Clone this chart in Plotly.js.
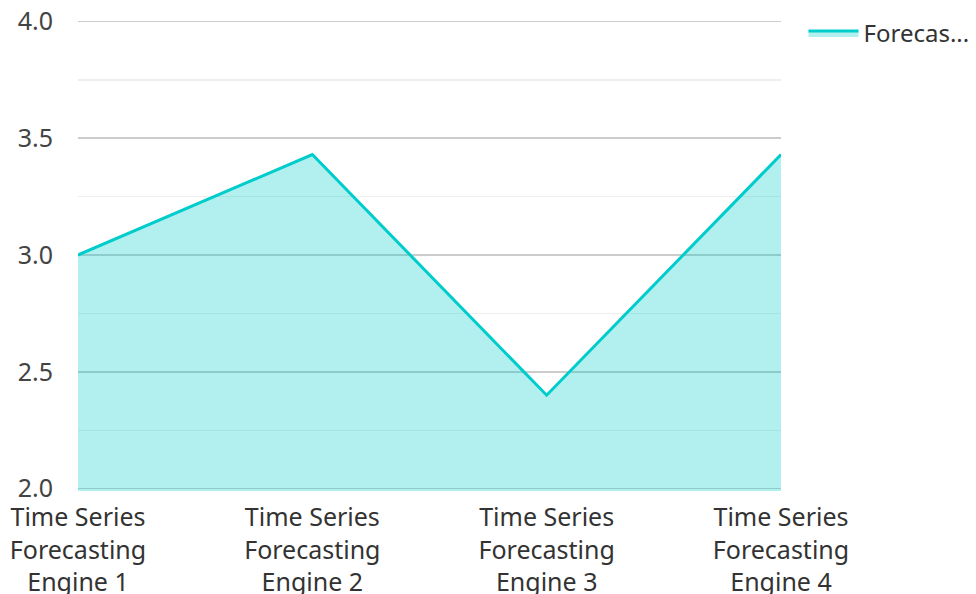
<!DOCTYPE html>
<html>
<head>
<meta charset="utf-8">
<script src="https://cdn.plot.ly/plotly-3.0.1.min.js"></script>
<style>html,body{margin:0;padding:0;background:#fff;}#chart{width:976px;height:594px;}</style>
</head>
<body>
<div id="chart"></div>
<script>
const categories = ["Time Series<br>Forecasting<br>Engine 1", "Time Series<br>Forecasting<br>Engine 2", "Time Series<br>Forecasting<br>Engine 3", "Time Series<br>Forecasting<br>Engine 4"];
const seriesName = "Forecas...";
const values = [3.0, 3.43, 2.4, 3.43];
const yTicks = [2.0, 2.5, 3.0, 3.5, 4.0];
const yTickLabels = ["2.0", "2.5", "3.0", "3.5", "4.0"];

const trace = {
  type: "scatter",
  mode: "lines",
  x: categories,
  y: values,
  name: seriesName,
  fill: "tozeroy",
  fillcolor: "rgba(0,204,204,0.3)",
  line: {color: "rgb(0,204,204)", width: 3},
  showlegend: true
};

const layout = {
  width: 976,
  height: 594,
  margin: {l: 78, r: 195, t: 19, b: 103, autoexpand: false},
  paper_bgcolor: "#fff",
  plot_bgcolor: "#fff",
  font: {family: "Noto Sans, sans-serif", size: 25, color: "#444"},
  showlegend: true,
  legend: {
    x: 1.032, xanchor: "left", y: 1.017, yanchor: "top",
    itemwidth: 50,
    font: {family: "Noto Sans, sans-serif", size: 24, color: "#333"}
  },
  xaxis: {
    type: "category",
    range: [0, 3],
    showgrid: false,
    zeroline: false,
    showline: false,
    ticks: "outside",
    ticklen: 4,
    tickcolor: "rgba(0,0,0,0)",
    tickfont: {size: 25, color: "#333"},
    automargin: false
  },
  yaxis: {
    range: [1.99, 4.01],
    tickvals: yTicks,
    ticktext: yTickLabels,
    showgrid: true,
    gridcolor: "#cccccc",
    gridwidth: 1.5,
    zeroline: false,
    showline: false,
    ticks: "outside",
    ticklen: 19,
    tickcolor: "rgba(0,0,0,0)",
    tickfont: {size: 25, color: "#444"},
    minor: {dtick: 0.25, tick0: 2.0, showgrid: true, gridcolor: "#eeeeee", gridwidth: 1.5, ticks: ""},
    automargin: false
  }
};

Plotly.newPlot("chart", [trace], layout, {displayModeBar: false, staticPlot: true});
</script>
</body>
</html>
